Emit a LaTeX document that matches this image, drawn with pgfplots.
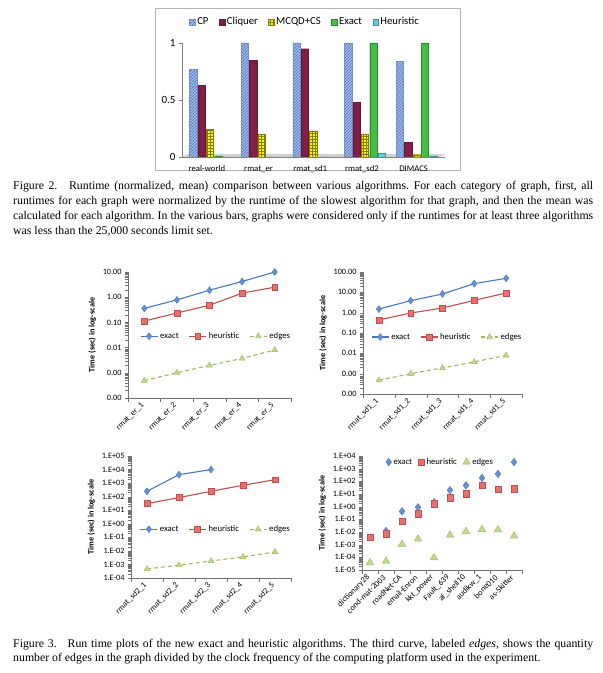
\documentclass[border=0pt]{standalone}
\usepackage{pgfplots}
\pgfplotsset{compat=1.18}
\usepackage{fontspec}
\setmainfont{Liberation Serif}
\newfontfamily\calf{Carlito}
\usetikzlibrary{patterns}
\frenchspacing
\definecolor{cpblue}{RGB}{160,188,232}
\definecolor{cpdark}{RGB}{80,115,190}
\definecolor{cliq}{RGB}{128,30,68}
\definecolor{mcqd}{RGB}{248,242,20}
\definecolor{mcqdd}{RGB}{130,125,0}
\definecolor{exactg}{RGB}{70,190,70}
\definecolor{heur}{RGB}{95,205,232}
\definecolor{exl}{RGB}{70,120,190}
\definecolor{exf}{RGB}{100,145,212}
\definecolor{hel}{RGB}{192,80,77}
\definecolor{hef}{RGB}{232,112,108}
\definecolor{edl}{RGB}{155,187,89}
\definecolor{edf}{RGB}{196,216,140}
\pgfplotsset{
  lgplot/.style={
    scale only axis,
    axis x line*=bottom, axis y line*=left,
    axis line style={-, black!55},
    tick align=outside, major tick length=3pt,
    xtick style={draw=none},
    minor y tick num=0,
    y tick style={black!55},
    tick label style={font=\calf\fontsize{8.2}{9}\selectfont},
    xticklabel style={rotate=45, anchor=east, yshift=-1pt},
    ylabel style={font=\calf\bfseries\fontsize{8.2}{9}\selectfont},
    ylabel={Time (sec) in log-scale},
    legend columns=3,
    legend style={draw=none, fill=none, font=\calf\fontsize{8.7}{9}\selectfont, anchor=center,
      /tikz/every even column/.append style={column sep=8pt}},
  },
  exs/.style={exl, line width=1.1pt, mark=diamond*, mark size=3.5pt, mark options={solid, fill=exf, draw=exl, line width=0.4pt}},
  hes/.style={hel, line width=1.1pt, mark=square*, mark size=2.9pt, mark options={solid, fill=hef, draw=hel, line width=0.5pt}},
  eds/.style={edl, line width=1.1pt, dash pattern=on 4pt off 3pt, mark=triangle*, mark size=3.4pt, mark options={solid, fill=edf, draw=edl, line width=0.4pt}},
}
\begin{document}
\begin{tikzpicture}
\path[use as bounding box, fill=white] (0,0) rectangle (603pt,673pt);
% ---------- Figure 2 bar chart ----------
\draw[black!30, line width=0.6pt] (155pt,503pt) rectangle (460pt,665pt);
\fill[black!18] (182pt,516pt) -- (440pt,516pt) -- (446pt,519pt) -- (188pt,519pt) -- cycle;
\begin{axis}[
  at={(182pt,516pt)}, anchor=south west, scale only axis,
  width=263pt, height=114pt,
  xmin=-0.54, xmax=4.55, ymin=0, ymax=1,
  axis x line*=bottom, axis y line*=left,
  axis line style={-, black!50},
  ytick={0,0.5,1}, yticklabels={0,0.5,1},
  tick align=outside, major tick length=3pt,
  y tick style={black!50}, xtick style={draw=none},
  xtick={0,...,4},
  xticklabels={real-world,rmat\_er,rmat\_sd1,rmat\_sd2,DIMACS},
  xticklabel style={font=\calf\fontsize{8.7}{9}\selectfont, xshift=-3pt, yshift=-1pt, text height=1.6ex, text depth=0.4ex},
  yticklabel style={font=\calf\fontsize{11}{12}\selectfont},
  legend columns=5,
  legend style={draw=none, fill=none, at={(0.468,1.184)}, anchor=center,
    font=\calf\fontsize{10.7}{11}\selectfont,
    /tikz/every even column/.append style={column sep=8.5pt}},
  legend image code/.code={\fill[#1] (0pt,-2.8pt) rectangle (5.6pt,2.8pt);},
]
\addplot[ybar, bar width=7.3pt, bar shift=-16.8pt, draw=cpdark!80, line width=0.3pt, fill=cpblue, postaction={pattern=north east lines, pattern color=cpdark}]
  coordinates {(0,0.77)(1,1.0)(2,1.0)(3,1.0)(4,0.84)};
\addplot[ybar, bar width=7.3pt, bar shift=-8.4pt, draw=cliq!80!black, line width=0.3pt, fill=cliq]
  coordinates {(0,0.63)(1,0.85)(2,0.95)(3,0.48)(4,0.13)};
\addplot[ybar, bar width=7.3pt, bar shift=0pt, draw=mcqdd, line width=0.3pt, fill=mcqd, postaction={pattern=grid, pattern color=mcqdd}]
  coordinates {(0,0.24)(1,0.20)(2,0.23)(3,0.20)(4,0.02)};
\addplot[ybar, bar width=7.3pt, bar shift=8.4pt, draw=exactg!70!black, line width=0.3pt, fill=exactg]
  coordinates {(0,0.01)(1,0)(2,0)(3,1.0)(4,1.0)};
\addplot[ybar, bar width=7.3pt, bar shift=16.8pt, draw=heur!70!black, line width=0.3pt, fill=heur]
  coordinates {(0,0)(1,0)(2,0)(3,0.03)(4,0.01)};
\legend{CP,Cliquer,MCQD+CS,Exact,Heuristic}
\end{axis}
% ---------- Figure 2 caption ----------
\begin{scope}[every node/.style={anchor=base west, inner sep=0pt, font=\fontsize{11.8}{13}\selectfont}]
\node at (13pt,483pt) {\makebox[580pt][s]{Figure 2.\hspace{0.6em} Runtime (normalized, mean) comparison between various algorithms. For each category of graph, first, all}};
\node at (13pt,468.3pt) {\makebox[580pt][s]{runtimes for each graph were normalized by the runtime of the slowest algorithm for that graph, and then the mean was}};
\node at (13pt,453.6pt) {\makebox[580pt][s]{calculated for each algorithm. In the various bars, graphs were considered only if the runtimes for at least three algorithms}};
\node at (13pt,438.9pt) {was less than the 25,000 seconds limit set.};
\node at (13pt,26pt) {\makebox[580pt][s]{Figure 3.\hspace{0.6em} Run time plots of the new exact and heuristic algorithms. The third curve, labeled \textit{edges}, shows the quantity}};
\node at (13pt,12pt) {number of edges in the graph divided by the clock frequency of the computing platform used in the experiment.};
\end{scope}
% ---------- Plot A: rmat_er ----------
\begin{axis}[lgplot, ymode=log, at={(128pt,275pt)}, anchor=south west, width=163pt, height=126pt,
  xmin=0.5, xmax=5.5, xtick={1,...,5},
  extra x ticks={0.5,1.5,...,5.5}, extra x tick labels={},
  extra x tick style={xtick style={draw=black!55}, major tick length=4pt},
  xticklabels={rmat\_er\_1,rmat\_er\_2,rmat\_er\_3,rmat\_er\_4,rmat\_er\_5},
  ymin=1e-4, ymax=10, ytick={1e-4,1e-3,1e-2,1e-1,1,10},
  yticklabels={0.00,0.00,0.01,0.10,1.00,10.00},
  legend style={at={(0.54,0.49)}}]
\addplot[exs] coordinates {(1,0.36)(2,0.78)(3,1.9)(4,4.2)(5,10)};
\addplot[hes] coordinates {(1,0.113)(2,0.236)(3,0.48)(4,1.45)(5,2.5)};
\addplot[eds] coordinates {(1,4.9e-4)(2,1e-3)(3,1.96e-3)(4,3.7e-3)(5,8.1e-3)};
\legend{exact,heuristic,edges}
\end{axis}
% ---------- Plot B: rmat_sd1 ----------
\begin{axis}[lgplot, ymode=log, at={(363pt,279pt)}, anchor=south west, width=159pt, height=122pt,
  xmin=0.5, xmax=5.5, xtick={1,...,5},
  extra x ticks={0.5,1.5,...,5.5}, extra x tick labels={},
  extra x tick style={xtick style={draw=black!55}, major tick length=4pt},
  xticklabels={rmat\_sd1\_1,rmat\_sd1\_2,rmat\_sd1\_3,rmat\_sd1\_4,rmat\_sd1\_5},
  ymin=1e-4, ymax=100, ytick={1e-4,1e-3,1e-2,1e-1,1,10,100},
  yticklabels={0.00,0.00,0.01,0.10,1.00,10.00,100.00},
  legend style={at={(0.53,0.467)}}]
\addplot[exs] coordinates {(1,1.5)(2,3.9)(3,8.3)(4,26.7)(5,49)};
\addplot[hes] coordinates {(1,0.44)(2,0.96)(3,1.7)(4,4.0)(5,9.3)};
\addplot[eds] coordinates {(1,4.8e-4)(2,1e-3)(3,1.9e-3)(4,3.8e-3)(5,7.9e-3)};
\legend{exact,heuristic,edges}
\end{axis}
% ---------- Plot C: rmat_sd2 ----------
\begin{axis}[lgplot, ymode=log, at={(131pt,95pt)}, anchor=south west, width=160pt, height=122pt,
  xmin=0.5, xmax=5.5, xtick={1,...,5},
  extra x ticks={0.5,1.5,...,5.5}, extra x tick labels={},
  extra x tick style={xtick style={draw=black!55}, major tick length=4pt},
  xticklabels={rmat\_sd2\_1,rmat\_sd2\_2,rmat\_sd2\_3,rmat\_sd2\_4,rmat\_sd2\_5},
  ymin=1e-4, ymax=1e5, ytick={1e-4,1e-3,1e-2,1e-1,1,10,100,1e3,1e4,1e5},
  yticklabels={1.E-04,1.E-03,1.E-02,1.E-01,1.E+00,1.E+01,1.E+02,1.E+03,1.E+04,1.E+05},
  legend style={at={(0.53,0.40)}}]
\addplot[exs] coordinates {(1,250)(2,4200)(3,1e4)};
\addplot[hes] coordinates {(1,31)(2,85)(3,250)(4,690)(5,1800)};
\addplot[eds] coordinates {(1,4.7e-4)(2,8.7e-4)(3,1.8e-3)(4,3.6e-3)(5,8.3e-3)};
\legend{exact,heuristic,edges}
\end{axis}
% ---------- Plot D: real-world ----------
\begin{axis}[lgplot, ymode=log, at={(362pt,103pt)}, anchor=south west, width=160pt, height=114pt,
  xmin=0.5, xmax=10.5, xtick={1,...,10},
  extra x ticks={0.5,1.5,...,10.5}, extra x tick labels={},
  extra x tick style={xtick style={draw=black!55}, major tick length=4pt},
  xticklabels={dictionary28,cond-mat-2003,roadNet-CA,email-Enron,kkt\_power,Fault\_639,af\_shell10,audikw\_1,bone010,as-Skitter},
  ymin=1e-5, ymax=1e4, ytick={1e-5,1e-4,1e-3,1e-2,1e-1,1,10,100,1e3,1e4},
  yticklabels={1.E-05,1.E-04,1.E-03,1.E-02,1.E-01,1.E+00,1.E+01,1.E+02,1.E+03,1.E+04},
  legend style={at={(0.49,0.947)}, /tikz/every even column/.append style={column sep=4pt}}]
\addplot[only marks, mark=diamond*, mark size=3.8pt, mark options={fill=exf, draw=exl, line width=0.4pt}]
  coordinates {(2,0.012)(3,0.43)(4,0.89)(5,2.2)(6,20)(7,48)(8,185)(9,385)(10,3300)};
\addplot[only marks, mark=square*, mark size=3.2pt, mark options={fill=hef, draw=hel, line width=0.5pt}]
  coordinates {(1,0.004)(2,0.0074)(3,0.074)(4,0.28)(5,1.7)(6,5.1)(7,10.6)(8,51)(9,25)(10,26)};
\addplot[only marks, mark=triangle*, mark size=4.3pt, mark options={fill=edf, draw=edl, line width=0.4pt}]
  coordinates {(1,3.8e-5)(2,5.1e-5)(3,1.07e-3)(4,2.8e-3)(5,9.4e-5)(6,5.8e-3)(7,0.011)(8,0.016)(9,0.015)(10,4.8e-3)};
\legend{exact,heuristic,edges}
\end{axis}
\end{tikzpicture}
\end{document}
